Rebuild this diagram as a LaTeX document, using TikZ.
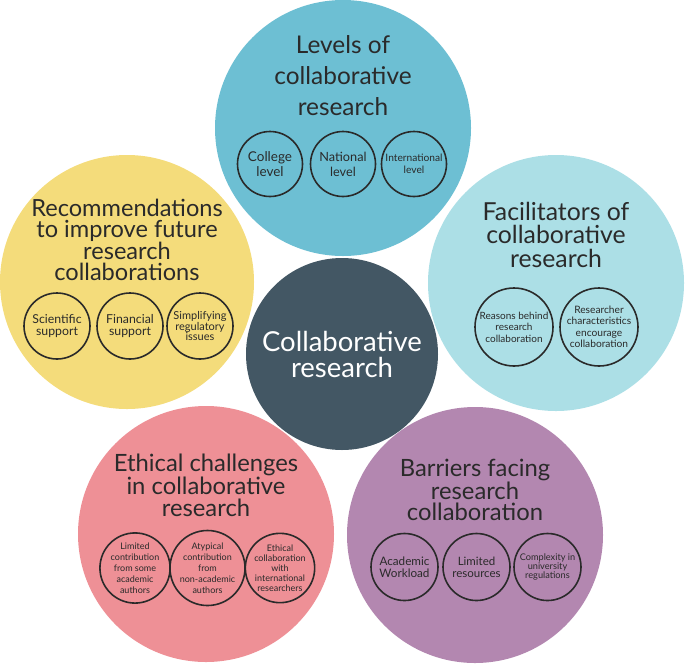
\documentclass[tikz,border=0pt]{standalone}
\usepackage{fontspec}
\setmainfont{Lato}
\definecolor{cTop}{HTML}{6DBFD3}
\definecolor{cFac}{HTML}{ACDFE6}
\definecolor{cYel}{HTML}{F4DC7B}
\definecolor{cPink}{HTML}{EE9096}
\definecolor{cPurp}{HTML}{B387B0}
\definecolor{cMid}{HTML}{435764}
\definecolor{cTxt}{HTML}{2A2A2A}
\tikzset{
  bigc/.style={circle,inner sep=0pt,minimum size=256pt},
  subc/.style={circle,draw=cTxt,line width=1.6pt,inner sep=0pt,minimum size=66pt,align=center,text=cTxt},
  ttl/.style={align=center,text=cTxt,inner sep=0pt,anchor=north},
  fs/.style 2 args={font=\fontsize{#1}{#2}\selectfont}
}
\begin{document}
\begin{tikzpicture}[x=1pt,y=-1pt]
\useasboundingbox (0,0) rectangle (685,665);
% big circles
\node[bigc,fill=cTop] (top) at (343,128) {};
\node[bigc,fill=cYel,minimum size=254pt] (rec) at (127,282) {};
\node[bigc,fill=cFac] (fac) at (556,283) {};
\node[bigc,fill=cPink] (eth) at (206,534) {};
\node[bigc,fill=cPurp] (bar) at (475,535) {};
\node[circle,inner sep=0pt,minimum size=192pt,fill=cMid,text=white,align=center,fs={27.5}{26}] (mid) at (342,354) {Collaborative\\research};
% titles
\node[ttl,fs={24.4}{31}] (topT) at (343,35) {Levels of\\collaborative\\research};
\node[ttl,fs={23.6}{21.5}] (recT) at (127,198.5) {Recommendations\\to improve future\\research\\collaborations};
\node[ttl,fs={24.8}{23.5}] (facT) at (556,202) {Facilitators of\\collaborative\\research};
\node[ttl,fs={23.8}{21.5}] (ethT) at (206,454) {Ethical challenges\\in collaborative\\research};
\node[ttl,fs={23.8}{21.5}] (barT) at (475,459) {Barriers facing\\research\\collaboration};
% sub circles: levels
\node[subc,minimum size=65pt,fs={13.5}{15}] (t1) at (270,164) {College\\level};
\node[subc,minimum size=65pt,fs={12.7}{15}] (t2) at (343,164) {National\\level};
\node[subc,minimum size=65pt,fs={10.2}{12}] (t3) at (414,164) {International\\level};
% recommendations
\node[subc,fs={12.3}{12}] (r1) at (57,326) {Scientific\\support};
\node[subc,fs={12.3}{12}] (r2) at (130,326) {Financial\\support};
\node[subc,fs={11}{10.5}] (r3) at (200,326) {Simplifying\\regulatory\\issues};
% facilitators
\node[subc,minimum size=78pt,fs={10}{11.5}] (f1) at (514,327) {Reasons behind\\research\\collaboration};
\node[subc,minimum size=78pt,fs={10.2}{11.5}] (f2) at (599,327) {Researcher\\characteristics\\encourage\\collaboration};
% ethical
\node[subc,fs={9}{11}] (e1) at (135,568) {Limited\\contribution\\from some\\academic\\authors};
\node[subc,fs={9}{11}] (e2) at (207.5,568) {Atypical\\contribution\\from\\non-academic\\authors};
\node[subc,fs={9}{10}] (e3) at (280,568) {Ethical\\collaboration\\with\\international\\researchers};
% barriers
\node[subc,minimum size=67pt,fs={11.7}{12}] (b1) at (404.5,567) {Academic\\Workload};
\node[subc,minimum size=67pt,fs={11.5}{12}] (b2) at (476.5,567) {Limited\\resources};
\node[subc,minimum size=67pt,fs={9.2}{9}] (b3) at (547.5,567) {Complexity in\\university\\regulations};
\end{tikzpicture}
\end{document}
